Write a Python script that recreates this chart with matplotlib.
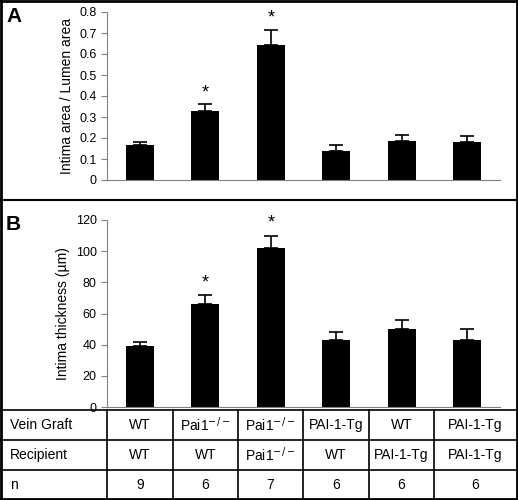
import numpy as np
import matplotlib.pyplot as plt
from matplotlib.lines import Line2D

ratio = [0.165, 0.33, 0.645, 0.14, 0.185, 0.18]
ratio_err = [0.015, 0.03, 0.07, 0.025, 0.03, 0.03]
thick = [39, 66, 102, 43, 50, 43]
thick_err = [3, 6, 8, 5, 6, 7]
star = [False, True, True, False, False, False]
graft = ['WT', 'Pai1$^{-/-}$', 'Pai1$^{-/-}$', 'PAI-1-Tg', 'WT', 'PAI-1-Tg']
recip = ['WT', 'WT', 'Pai1$^{-/-}$', 'WT', 'PAI-1-Tg', 'PAI-1-Tg']
n_vals = ['9', '6', '7', '6', '6', '6']
row_names = ['Vein Graft', 'Recipient', 'n']

W, H = 518, 500
fig = plt.figure(figsize=(W / 100, H / 100), dpi=100)
plt.rcParams['font.family'] = 'Arial' if False else 'Liberation Sans'

def fx(px): return px / W
def fy(py): return 1 - py / H

x0, x1 = 107, 500
x = np.arange(6)

def panel(top, bot, vals, errs, ymax, step, ylabel, letter, fmt):
    ax = fig.add_axes([fx(x0), fy(bot), fx(x1) - fx(x0), fy(top) - fy(bot)])
    ax.bar(x, vals, width=0.42, color='black')
    ax.errorbar(x, vals, yerr=[np.zeros(6), errs], fmt='none', ecolor='black',
                capsize=5, elinewidth=1.2, capthick=1.2)
    for i in range(6):
        if star[i]:
            ax.text(i, vals[i] + errs[i] + ymax * 0.02, '*', ha='center', va='bottom',
                    fontsize=13)
    ax.set_xlim(-0.5, 5.5)
    ax.set_ylim(0, ymax)
    ax.set_yticks(np.arange(0, ymax + step / 2, step))
    ax.set_yticklabels([fmt(v) for v in np.arange(0, ymax + step / 2, step)], fontsize=9)
    ax.set_xticks([])
    ax.spines['top'].set_visible(False)
    ax.spines['right'].set_visible(False)
    ax.spines['bottom'].set_color('#808080')
    ax.spines['left'].set_color('#808080')
    ax.tick_params(axis='y', direction='out', length=4, color='#808080')
    ax.set_ylabel(ylabel, fontsize=10)
    fig.text(fx(6), fy(top - 5), letter, fontsize=15, fontweight='bold', va='top')
    return ax

panel(12, 180, ratio, ratio_err, 0.8, 0.1, 'Intima area / Lumen area', 'A',
      lambda v: '0' if v == 0 else f'{v:.1f}')
panel(220, 407, thick, thick_err, 120, 20, 'Intima thickness (µm)', 'B',
      lambda v: f'{int(round(v))}')

def hline(py, lw=1.2):
    fig.add_artist(Line2D([0, 1], [fy(py), fy(py)], color='black', lw=lw))

def vline(px, ya, yb, lw=1.2):
    fig.add_artist(Line2D([fx(px), fx(px)], [fy(ya), fy(yb)], color='black', lw=lw))

# outer frame and separators
hline(1, 2); hline(499, 2); hline(200, 1.5); hline(410); hline(440); hline(470)
vline(1, 0, 500, 2); vline(517, 0, 500, 2)

cols = [0, 107, 173, 238, 303, 369, 434, 517]
for c in cols[1:-1]:
    vline(c, 410, 500)

rows = [graft, recip, n_vals]
for r, (name, vals) in enumerate(zip(row_names, rows)):
    yc = 425 + 30 * r
    fig.text(fx(10), fy(yc), name, fontsize=10, va='center')
    for i, v in enumerate(vals):
        xc = (cols[i + 1] + cols[i + 2]) / 2
        fig.text(fx(xc), fy(yc), v, fontsize=10, ha='center', va='center')

fig.savefig('out.png', dpi=100)
